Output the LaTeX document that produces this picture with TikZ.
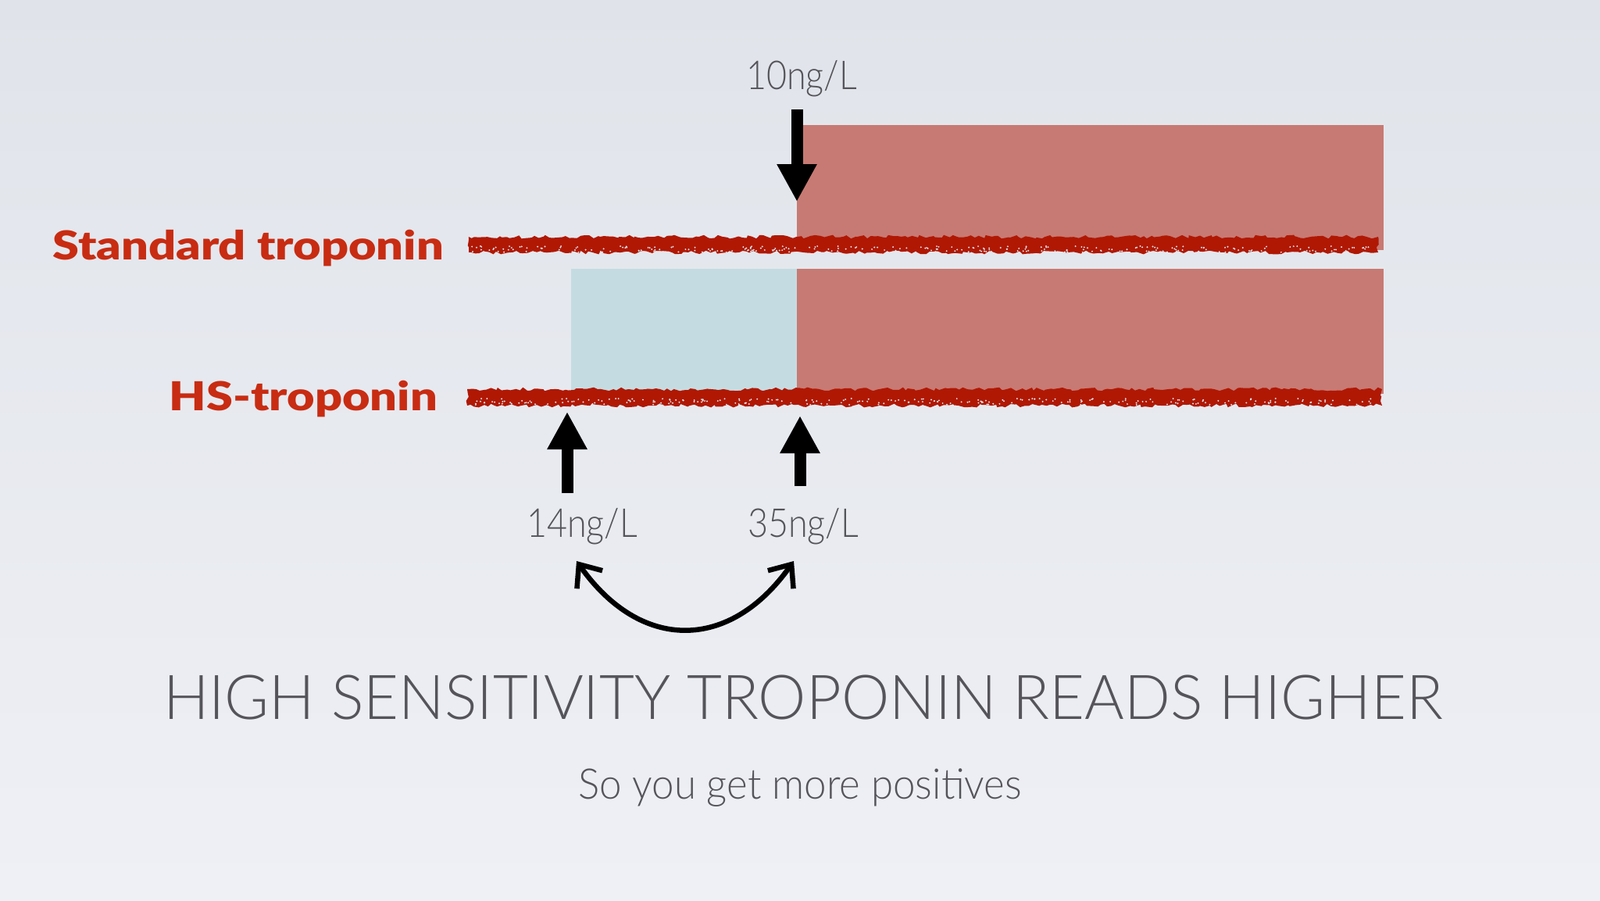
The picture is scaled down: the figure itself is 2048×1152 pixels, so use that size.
\documentclass[tikz,border=0pt]{standalone}
\usepackage{fontspec}
\setmainfont{Lato}
\newfontfamily\lightf{Lato Light}
\newfontfamily\heavyf{Lato Black}
\usetikzlibrary{arrows.meta,decorations.pathmorphing}
\definecolor{bgtop}{RGB}{224,228,234}
\definecolor{bgbot}{RGB}{239,240,245}
\definecolor{boxred}{RGB}{199,122,115}
\definecolor{boxblue}{RGB}{196,220,225}
\definecolor{linered}{RGB}{176,24,4}
\definecolor{labred}{RGB}{200,44,18}
\definecolor{txtgray}{RGB}{84,84,90}
\tikzset{
  x=1pt, y=-1pt,
  roughline/.style={fill=linered, decorate, decoration={random steps, segment length=5pt, amplitude=2.4pt}},
  blockarrow/.style={line width=15pt, -{Triangle[length=48pt,width=48pt]}},
  curvearrow/.style={line width=6.5pt, {Straight Barb[length=24pt,width=40pt]}-{Straight Barb[length=24pt,width=40pt]}},
  rowlabel/.style={text=labred, font=\heavyf\fontsize{51}{60}\selectfont, inner sep=0pt},
  vallabel/.style={text=txtgray, font=\lightf\fontsize{51}{60}\selectfont, inner sep=0pt},
  titletext/.style={text=txtgray, font=\lightf\fontsize{79}{90}\selectfont, inner sep=0pt},
  subtext/.style={text=txtgray, font=\lightf\fontsize{54}{64}\selectfont, inner sep=0pt}
}
\begin{document}
\begin{tikzpicture}
\shade[top color=bgtop, bottom color=bgbot] (0,0) rectangle (2048,1152);
\useasboundingbox (0,0) rectangle (2048,1152);
% boxes
\fill[boxred] (1020,160) rectangle (1771,320);
\fill[boxblue] (731,344) rectangle (1020,504);
\fill[boxred] (1020,344) rectangle (1771,504);
% rough lines
\fill[roughline] (600,303) rectangle (1764,323);
\fill[roughline] (598,498) rectangle (1769,519);
\pgfmathsetseed{11}
\foreach \i in {1,...,260}{
  \pgfmathsetmacro\px{604+rnd*1158}
  \pgfmathsetmacro\py{315+rnd*8}
  \fill[bgtop] (\px,\py) circle (1.1pt);
  \pgfmathsetmacro\qx{602+rnd*1164}
  \pgfmathsetmacro\qy{510+rnd*8}
  \fill[bgtop] (\qx,\qy) circle (1.1pt);
}
% labels
\node[rowlabel, anchor=base east] (std) at (568,332) {\scalebox{1.2}[1]{Standard troponin}};
\node[rowlabel, anchor=base east] (hs) at (560,525) {\scalebox{1.2}[1]{HS-troponin}};
\node[vallabel, anchor=base] (l10) at (1026,114) {\scalebox{0.88}[1]{10ng/L}};
\node[vallabel, anchor=base] (l14) at (745,687) {\scalebox{0.88}[1]{14ng/L}};
\node[vallabel, anchor=base] (l35) at (1028,687) {\scalebox{0.88}[1]{35ng/L}};
% arrows
\coordinate (a10s) at (1020,140);
\coordinate (a10e) at (1020,258);
\coordinate (a14s) at (726,631);
\coordinate (a14e) at (726,527);
\coordinate (a35s) at (1024,622);
\coordinate (a35e) at (1024,532);
\draw[blockarrow] (a10s) -- (a10e);
\draw[blockarrow] (a14s) -- (a14e);
\draw[blockarrow] (a35s) -- (a35e);
\coordinate (cl) at (738,718);
\coordinate (cr) at (1016,718);
\draw[curvearrow] (cl) .. controls (820,834) and (934,834) .. (cr);
% title
\node[titletext, anchor=base west] (title) at (209,920) {\scalebox{0.981}[1]{HIGH SENSITIVITY TROPONIN READS HIGHER}};
\node[subtext, anchor=base] (sub) at (1024,1022) {\scalebox{0.945}[1]{So you get more positives}};
\end{tikzpicture}
\end{document}
